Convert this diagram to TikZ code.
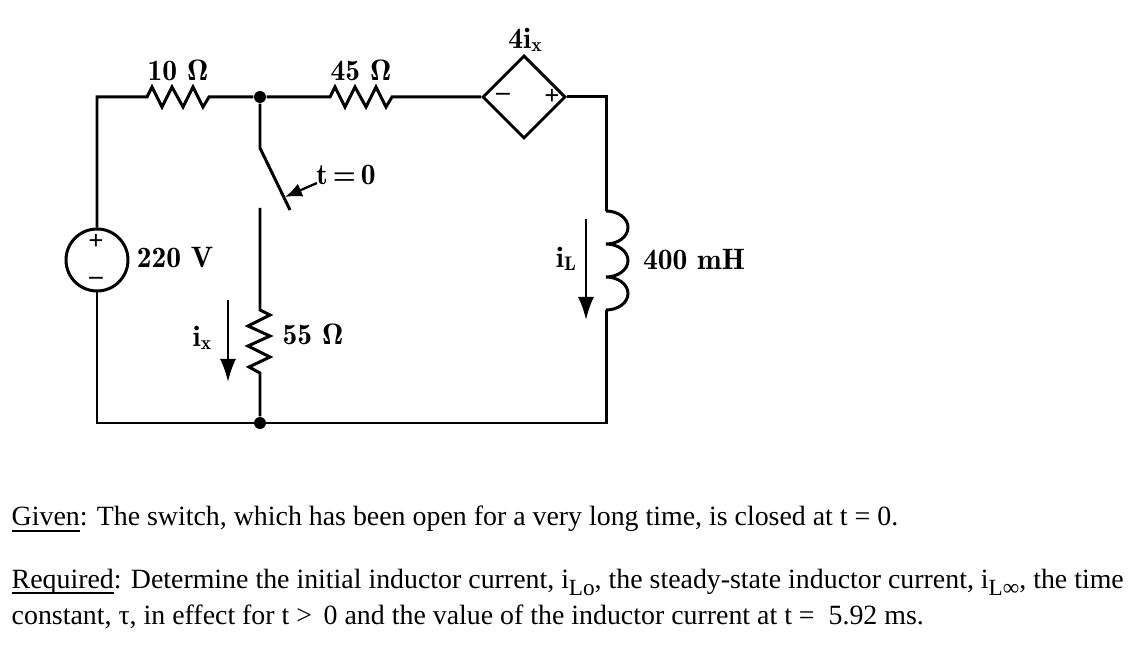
\documentclass[tikz,border=0pt]{standalone}
\usepackage{fontspec}
\usepackage{tikz}
\usetikzlibrary{positioning,calc,arrows.meta,shapes.geometric}
\newfontfamily\bodyfont{Liberation Serif}
\newcommand{\lowtext}[1]{\raisebox{-0.55ex}{\fontsize{6.6pt}{7pt}\selectfont #1}}
\newcommand{\lowlabel}[1]{\raisebox{-0.2ex}{\fontsize{5.6pt}{6pt}\selectfont #1}}
\newcommand{\ulbody}[1]{\underline{\smash{#1}}}
\tikzset{
	wire/.style={line width=0.85pt},
	thinwire/.style={line width=0.65pt},
	currentarrow/.style={-{Latex[length=2.3mm,width=1.6mm]},line width=0.65pt},
	vallabel/.style={inner sep=0pt,font=\fontsize{8.4pt}{10pt}\fontseries{b}\selectfont},
	polarity/.style={inner sep=0pt,font=\fontsize{7.6pt}{8pt}\selectfont\bodyfont\bfseries},
	bodytext/.style={inner sep=0pt,anchor=base west,font=\fontsize{7.93pt}{9pt}\selectfont\bodyfont},
	junction/.style={circle,fill=black,inner sep=0pt,minimum size=3.4pt}
}
\begin{document}
\begin{tikzpicture}
	\useasboundingbox (0, 0) rectangle (11.46, 6.64);

	\coordinate (TL) at (0.97, 5.67);
	\coordinate (TR) at (6.06, 5.67);
	\coordinate (BL) at (0.97, 2.41);
	\coordinate (BR) at (6.06, 2.41);

	\coordinate (R1A) at (1.47, 5.67);
	\coordinate (R1B) at (2.09, 5.67);
	\coordinate (R2A) at (3.30, 5.67);
	\coordinate (R2B) at (3.92, 5.67);
	\coordinate (R3A) at (2.60, 3.54);
	\coordinate (R3B) at (2.60, 2.91);
	\coordinate (L1A) at (6.06, 4.53);
	\coordinate (L1B) at (6.06, 3.54);

	\coordinate (SW1) at (2.60, 5.16);
	\coordinate (SW2) at (2.90, 4.54);
	\coordinate (SW3) at (2.60, 4.56);
	\coordinate (SWARROW) at (3.17, 4.81);
	\coordinate (SWTIP) at (2.85, 4.67);

	\node[junction] (J1) at (2.60, 5.67) {};
	\node[junction] (J2) at (2.60, 2.41) {};
	\node[draw,circle,wire,inner sep=0pt,minimum size=0.62cm] (SRC) at (0.97, 4.04) {};
	\node[draw,diamond,wire,inner sep=0pt,minimum width=0.83cm,minimum height=0.83cm] (DEP) at (5.24, 5.67) {};

	\draw[wire] (SRC.north) -- (TL) -- (R1A) -- ++(0.05, 0.10) -- ++(0.10, -0.20) -- ++(0.10, 0.20) -- ++(0.11, -0.20) -- ++(0.10, 0.20) -- ++(0.10, -0.20) -- (R1B) -- (J1);
	\draw[wire] (J1) -- (R2A) -- ++(0.05, 0.10) -- ++(0.10, -0.20) -- ++(0.10, 0.20) -- ++(0.11, -0.20) -- ++(0.10, 0.20) -- ++(0.10, -0.20) -- (R2B) -- (DEP.west);
	\draw[wire] (DEP.east) -- (TR) -- (L1A);
	\draw[wire] (L1A) arc[start angle=90, end angle=-90, x radius=0.22, y radius=0.165]
		arc[start angle=90, end angle=-90, x radius=0.22, y radius=0.165]
		arc[start angle=90, end angle=-90, x radius=0.22, y radius=0.165];
	\draw[wire] (L1B) -- (BR) -- (BL) -- (SRC.south);
	\draw[wire] (J1) -- (SW1) -- (SW2);
	\draw[wire] (SW3) -- (R3A) -- ++(0.10, -0.05) -- ++(-0.22, -0.11) -- ++(0.22, -0.10) -- ++(-0.22, -0.10) -- ++(0.22, -0.11) -- ++(-0.21, -0.10) -- (R3B) -- (J2);

	\draw[-{Latex[length=1.7mm,width=1.4mm]},thinwire] (SWARROW) -- (SWTIP);
	\draw[currentarrow] (2.28, 3.64) -- (2.28, 2.82);
	\draw[currentarrow] (5.86, 4.45) -- (5.86, 3.44);

	\node[vallabel] (VAL10) at (1.78, 5.94) {10\,\,Ω};
	\node[vallabel] (VAL45) at (3.61, 5.94) {45\,\,Ω};
	\node[vallabel] (VAL4I) at (5.25, 6.24) {4i\lowlabel{x}};
	\node[vallabel] (VAL220) at (1.75, 4.06) {220\,\,V};
	\node[vallabel] (VAL55) at (3.13, 3.30) {55\,\,Ω};
	\node[vallabel] (VAL400) at (6.94, 4.04) {400\,\,mH};
	\node[vallabel] (VALT) at (3.46, 4.89) {t\,=\,0};
	\node[vallabel] (VALIX) at (2.02, 3.26) {i\lowlabel{x}};
	\node[vallabel] (VALIL) at (5.66, 4.05) {i\lowlabel{L}};

	\node[polarity] (SRCP) at (0.96, 4.22) {+};
	\node[polarity] (SRCM) at (0.96, 3.83) {–};
	\node[polarity] (DEPP) at (5.52, 5.67) {+};
	\node[polarity] (DEPM) at (5.03, 5.67) {–};

	\node[bodytext] (GIVEN) at (0.11, 1.38) {\ulbody{Given}: The switch, which has been open for a very long time, is closed at t = 0.};
	\node[bodytext] (REQ) at (0.11, 0.76) {\ulbody{Required}: Determine the initial inductor current, i\lowtext{Lo}, the steady-state inductor current, i\lowtext{L∞}, the time};
	\node[bodytext] (CONST) at (0.11, 0.39) {constant, τ, in effect for t > \,0 and the value of the inductor current at t = \ 5.92 ms.};
\end{tikzpicture}
\end{document}
